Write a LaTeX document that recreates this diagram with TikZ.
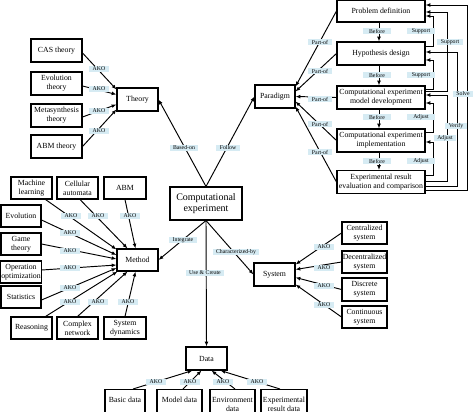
\documentclass[tikz,border=0pt]{standalone}
\usepackage{fontspec}
\setmainfont{Liberation Serif}
\usetikzlibrary{arrows.meta}
\definecolor{lblue}{RGB}{214,235,243}
\newcommand{\bxf}{\fontsize{7.8}{9}\selectfont}
\newcommand{\cef}{\fontsize{10}{11.5}\selectfont}
\newcommand{\lbf}{\fontsize{5.8}{6.5}\selectfont}
\begin{document}
\begin{tikzpicture}[x=1pt,y=-1pt,
  bx/.style={draw, line width=1.05pt, fill=white, align=center, inner sep=0.5pt, font=\bxf},
  tb/.style={bx, minimum width=51pt, minimum height=23pt},
  mb/.style={bx, minimum width=41pt, minimum height=22pt},
  pb/.style={bx, minimum width=88pt, minimum height=23pt},
  sb/.style={bx, minimum width=45pt, minimum height=22pt},
  db/.style={bx, minimum height=30pt, anchor=north},
  arr/.style={-{Latex[length=4.8pt,width=3.8pt]}, line width=0.95pt},
  lb/.style={fill=lblue, font=\lbf, inner xsep=3.5pt, inner ysep=0.7pt},
  lbw/.style={lb, minimum width=28pt}
]
\useasboundingbox (0,0) rectangle (474,412);
\clip (0,0) rectangle (474,412);

% ---------- Theory ----------
\node[tb] (cas)  at (56.5,50.5)  {CAS theory};
\node[tb] (evo)  at (56.5,83.5)  {Evolution\\theory};
\node[tb] (meta) at (56.5,115.5) {Metasynthesis\\theory};
\node[tb] (abmt) at (56.5,146.5) {ABM theory};
\node[mb, minimum height=23pt] (theory) at (137.5,99.5) {Theory};

% ---------- Paradigm ----------
\node[mb, minimum width=40pt, minimum height=23pt] (paradigm) at (275,96.5) {Paradigm};
\node[pb, minimum height=22pt] (pd) at (381,11) {Problem definition};
\node[pb] (hd)   at (381,53.5)  {Hypothesis design};
\node[pb] (cemd) at (381,97.5)  {Computational experiment\\model development};
\node[pb] (cei)  at (381,140.5) {Computational experiment\\implementation};
\node[pb] (ere)  at (381,182)   {Experimental result\\evaluation and comparison};

% ---------- Central ----------
\node[bx, font=\cef, minimum width=72pt, minimum height=33pt] (ce) at (206,203.5) {Computational\\experiment};

% ---------- Method ----------
\node[mb] (method) at (137.5,260) {Method};
\node[mb] (ml)   at (31.5,188) {Machine\\learning};
\node[mb] (ca)   at (77.5,188) {Cellular\\automata};
\node[mb, minimum width=42pt] (abm) at (125,188) {ABM};
\node[mb, minimum width=40pt] (evol) at (21,216) {Evolution};
\node[mb, minimum width=40pt] (game) at (21,244) {Game\\theory};
\node[mb, minimum width=40pt] (opt)  at (21,272) {Operation\\optimization};
\node[mb, minimum width=40pt] (stat) at (21,297) {Statistics};
\node[mb] (reas) at (31.5,328) {Reasoning};
\node[mb] (cn)   at (77.5,328) {Complex\\network};
\node[mb, minimum width=42pt] (sd) at (125,328) {System\\dynamics};

% ---------- System ----------
\node[mb, minimum height=23pt] (system) at (274.5,274.5) {System};
\node[sb] (cen) at (364.5,233)   {Centralized\\system};
\node[sb] (dec) at (364.5,262)   {Decentralized\\system};
\node[sb, minimum height=23pt] (dis) at (364.5,289.5) {Discrete\\system};
\node[sb] (con) at (364.5,317)   {Continuous\\system};

% ---------- Data ----------
\node[mb, minimum height=23pt] (data) at (206.5,358.5) {Data};
\node[db, minimum width=40pt] (basic) at (125,389)   {Basic data\\~};
\node[db, minimum width=45pt] (model) at (179.5,389) {Model data\\~};
\node[db, minimum width=45pt] (env)   at (232.5,389) {Environment\\data};
\node[db, minimum width=46pt] (expd)  at (284,389)   {Experimental\\result data};

% ---------- connectors: theory ----------
\draw[arr] ([yshift=-2.5pt]cas.east) -- ([yshift=10pt]theory.west);
\draw[arr] ([yshift=-2.5pt]evo.east) -- ([yshift=5pt]theory.west);
\draw[arr] ([yshift=-1.5pt]meta.east) -- ([yshift=-5pt]theory.west);
\draw[arr] (abmt.east) -- ([yshift=-10pt]theory.west);

% ---------- central connectors ----------
\draw[arr] (ce.north) -- (theory.east);
\draw[arr] (ce.north) -- (paradigm.west);
\draw[arr] (ce.south) -- (method.east);
\draw[arr] (ce.south) -- (data.north);
\draw[arr] (ce.south) -- (system.west);

% ---------- paradigm part-of ----------
\draw[arr] (pd.west) -- ([yshift=10pt]paradigm.east);
\draw[arr] (hd.west) -- ([yshift=5pt]paradigm.east);
\draw[arr] (cemd.west) -- (paradigm.east);
\draw[arr] (cei.west) -- ([yshift=-5pt]paradigm.east);
\draw[arr] (ere.west) -- ([yshift=-10pt]paradigm.east);

% ---------- before ----------
\draw[arr] ([xshift=-2pt]pd.south) -- ([xshift=-2pt]hd.north);
\draw[arr] ([xshift=-2pt]hd.south) -- ([xshift=-2pt]cemd.north);
\draw[arr] ([xshift=-2pt]cemd.south) -- ([xshift=-2pt]cei.north);
\draw[arr] ([xshift=-2pt]cei.south) -- ([xshift=-2pt]ere.north);

% ---------- feedback ----------
\draw[arr] ([yshift=7.5pt]hd.east) -- ++(8,0) |- ([yshift=-5pt]pd.east);
\draw[arr] ([yshift=8.5pt]cemd.east) -- ++(8,0) |- ([yshift=-6.5pt]hd.east);
\draw[arr] ([yshift=6.5pt]cemd.east) -- ++(22,0) |- ([yshift=-1pt]pd.east);
\draw[arr] ([yshift=1pt]ere.east) -- ++(22,0) |- ([yshift=2.5pt]cemd.east);
\draw[arr] ([yshift=8.5pt]cei.east) -- ++(8,0) |- ([yshift=-5.5pt]cemd.east);
\draw[arr] ([yshift=7pt]ere.east) -- ++(8,0) |- ([yshift=-1.5pt]cei.east);
\draw[arr] ([yshift=-4pt]ere.east) -- ++(32,0) |- ([yshift=1.5pt]hd.east);
\draw[arr] ([yshift=-8pt]ere.east) -- ++(42,0) |- ([yshift=6pt]pd.east);

% ---------- method ----------
\draw[arr] ([xshift=-7pt]ml.south east) -- ([yshift=-1pt]method.north west);
\draw[arr] ([xshift=2.5pt]ca.south) -- ([xshift=-10pt]method.north);
\draw[arr] (abm.south) -- ([xshift=-2pt]method.north);
\draw[arr] ([yshift=-4pt]evol.east) -- ([yshift=5pt]method.west);
\draw[arr] (game.east) -- ([yshift=1pt]method.west);
\draw[arr] ([yshift=2pt]opt.east) -- ([yshift=-5pt]method.west);
\draw[arr] ([yshift=-3pt]stat.east) -- ([yshift=-8pt]method.west);
\draw[arr] ([xshift=-7pt]reas.north east) -- ([xshift=1pt]method.south west);
\draw[arr] (cn.north) -- ([xshift=-10pt]method.south);
\draw[arr] (sd.north) -- ([xshift=-2pt]method.south);

% ---------- system ----------
\draw[arr] (cen.west) -- ([yshift=10pt]system.east);
\draw[arr] (dec.west) -- ([yshift=5pt]system.east);
\draw[arr] (dis.west) -- ([yshift=-3pt]system.east);
\draw[arr] (con.west) -- ([yshift=-10pt]system.east);

% ---------- data ----------
\draw[arr] ([xshift=8pt]basic.north) -- ([xshift=-14pt]data.south);
\draw[arr] ([xshift=3.5pt]model.north) -- ([xshift=-5pt]data.south);
\draw[arr] ([xshift=2.5pt]env.north) -- ([xshift=5pt]data.south);
\draw[arr] ([xshift=-4pt]expd.north) -- ([xshift=14pt]data.south);

% ---------- labels ----------
\foreach \p in {(99,69),(99,89),(99,111),(99,131),
                (71,216),(98,216),(130,216),(70,233),(70,251),(70,268),(70,288),
                (70,302),(98,302),(128,302),
                (324,247),(324,268),(324,286),(324,305),
                (156,382),(190,382),(223,382),(257,382)}
  \node[lb] at \p {AKO};
\node[lb] (lbased) at (184,148) {Based-on};
\node[lb] (lfollow) at (228,148) {Follow};
\node[lb] (lint) at (183,240) {Integrate};
\node[lb] (luse) at (205,273) {Use \& Create};
\node[lb] (lchar) at (236,252) {Characterized-by};
\foreach \y in {42,71,99,124,152}
  \node[lb] at (320,\y) {Part-of};
\foreach \y in {31,75,117,161}
  \node[lbw] at (377,\y) {Before};
\node[lbw] at (421,31) {Support};
\node[lb] at (450,42) {Support};
\node[lbw] at (421,75) {Support};
\node[lb] at (463,94) {Solve};
\node[lbw] at (421,117) {Adjust};
\node[lb] at (456,126) {Verify};
\node[lb] at (445,138) {Adjust};
\node[lbw] at (421,161) {Adjust};
\end{tikzpicture}
\end{document}
